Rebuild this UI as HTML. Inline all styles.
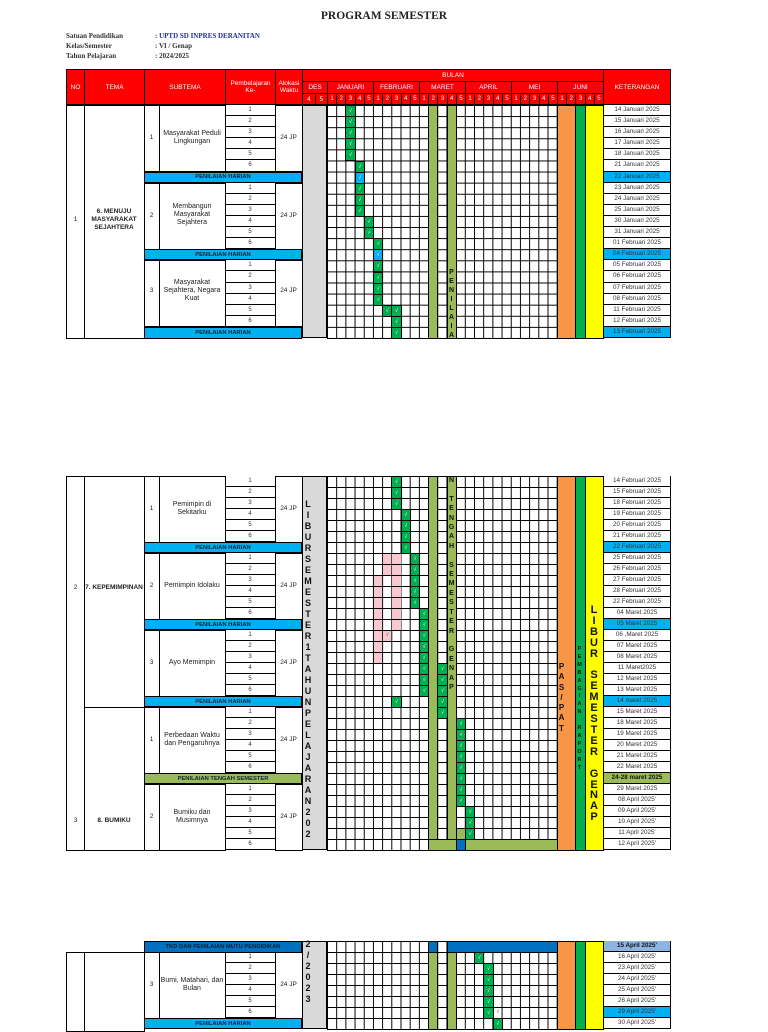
<!DOCTYPE html>
<html><head><meta charset="utf-8">
<style>
*{margin:0;padding:0;box-sizing:border-box}
body{width:768px;height:1024px;background:#fff;position:relative;overflow:hidden;font-family:"Liberation Sans",sans-serif;color:#222}
.a{position:absolute}
.b{position:absolute;border:1px solid #000}
.t{position:absolute;text-align:center;font-size:6.5px;line-height:8px;display:flex;align-items:center;justify-content:center}
.hd{position:absolute;background:#f00;border:1px solid #000;color:#fff;font-size:6.5px;display:flex;align-items:center;justify-content:center;text-align:center;line-height:7px}
.nums{position:absolute;left:225px;width:50px;font-size:6px;text-align:center;color:#333}
.nums div{border-bottom:1px solid #000;}
.ket{position:absolute;left:603px;width:68px;border-left:1px solid #000;border-right:1px solid #000;font-size:6.3px;text-align:center;color:#333}
.ket div{border-bottom:1px solid #000;overflow:hidden;white-space:nowrap}
.ph{position:absolute;left:144px;width:158px;background:#00b0f0;border:1px solid #000;font-size:5.8px;font-weight:bold;color:#123;display:flex;align-items:center;justify-content:center}
.vt{position:absolute;font-weight:bold;text-align:center;color:#111}
.ck{position:absolute;border:1px solid #000;font-size:5px;color:#fff;text-align:center}
.ck::after{content:"√"}
.info{position:absolute;font-family:"Liberation Serif",serif;font-weight:bold;font-size:7px}
</style></head><body>
<div class="a" style="left:0;top:10px;width:768px;text-align:center;font-family:'Liberation Serif',serif;font-weight:bold;font-size:11.5px">PROGRAM SEMESTER</div>
<div class="info" style="left:66px;top:31px;line-height:10px;color:#333">Satuan Pendidikan<br>Kelas/Semester<br>Tahun Pelajaran</div>
<div class="info" style="left:155px;top:31px;line-height:10px;color:#333"><span style="color:#1f2f8f">: UPTD SD INPRES DERANITAN</span><br>: VI / Genap<br>: 2024/2025</div>

<!-- header -->
<div class="hd" style="left:66px;top:69px;width:19px;height:36px">NO</div>
<div class="hd" style="left:84px;top:69px;width:61px;height:36px">TEMA</div>
<div class="hd" style="left:144px;top:69px;width:82px;height:36px">SUBTEMA</div>
<div class="hd" style="left:225px;top:69px;width:51px;height:36px">Pembelajaran<br>Ke-</div>
<div class="hd" style="left:275px;top:69px;width:28px;height:36px">Alokasi<br>Waktu</div>
<div class="hd" style="left:302px;top:69px;width:302px;height:13px">BULAN</div>
<div class="hd" style="left:302px;top:81px;width:26px;height:13px">DES</div>
<div class="hd" style="left:327px;top:81px;width:47px;height:13px">JANUARI</div>
<div class="hd" style="left:373px;top:81px;width:47px;height:13px">FEBRUARI</div>
<div class="hd" style="left:419px;top:81px;width:47px;height:13px">MARET</div>
<div class="hd" style="left:465px;top:81px;width:47px;height:13px">APRIL</div>
<div class="hd" style="left:511px;top:81px;width:47px;height:13px">MEI</div>
<div class="hd" style="left:557px;top:81px;width:47px;height:13px">JUNI</div>
<div class="hd" style="left:603px;top:69px;width:68px;height:36px">KETERANGAN</div>
<div id="wk"></div>

<!-- SECTION 1 -->
<div class="b" style="left:66px;top:105px;width:19px;height:234px"></div>
<div class="b" style="left:84px;top:105px;width:61px;height:234px"></div>
<div class="t" style="left:66px;top:215px;width:19px;height:10px">1</div>
<div class="t" style="left:84px;top:205px;width:60px;height:30px;font-weight:bold">6. MENUJU<br>MASYARAKAT<br>SEJAHTERA</div>

<div class="b" style="left:144px;top:105px;width:16px;height:67px"></div><div class="b" style="left:159px;top:105px;width:67px;height:67px"></div><div class="b" style="left:275px;top:105px;width:28px;height:67px"></div>
<div class="t" style="left:144px;top:133px;width:15px;height:10px">1</div>
<div class="t" style="left:159px;top:130px;width:66px;height:16px;font-size:7px">Masyarakat Peduli<br>Lingkungan</div>
<div class="t" style="left:275px;top:133px;width:27px;height:10px">24 JP</div>
<div class="nums" style="top:105px;line-height:10.1px"><div style="height:11.1px">1</div><div style="height:11.1px">2</div><div style="height:11.1px">3</div><div style="height:11.1px">4</div><div style="height:11.1px">5</div><div style="height:11.1px">6</div></div>
<div class="ph" style="top:171.6px;height:11.1px">PENILAIAN HARIAN</div>

<div class="b" style="left:144px;top:182.7px;width:16px;height:67px"></div><div class="b" style="left:159px;top:182.7px;width:67px;height:67px"></div><div class="b" style="left:275px;top:182.7px;width:28px;height:67px"></div>
<div class="t" style="left:144px;top:211px;width:15px;height:10px">2</div>
<div class="t" style="left:159px;top:203px;width:66px;height:24px;font-size:7px">Membangun<br>Masyarakat<br>Sejahtera</div>
<div class="t" style="left:275px;top:211px;width:27px;height:10px">24 JP</div>
<div class="nums" style="top:182.7px;line-height:10.1px"><div style="height:11.1px">1</div><div style="height:11.1px">2</div><div style="height:11.1px">3</div><div style="height:11.1px">4</div><div style="height:11.1px">5</div><div style="height:11.1px">6</div></div>
<div class="ph" style="top:249.3px;height:11.1px">PENILAIAN HARIAN</div>

<div class="b" style="left:144px;top:260.4px;width:16px;height:67px"></div><div class="b" style="left:159px;top:260.4px;width:67px;height:67px"></div><div class="b" style="left:275px;top:260.4px;width:28px;height:67px"></div>
<div class="t" style="left:144px;top:286px;width:15px;height:10px">3</div>
<div class="t" style="left:159px;top:279px;width:66px;height:24px;font-size:7px">Masyarakat<br>Sejahtera, Negara<br>Kuat</div>
<div class="t" style="left:275px;top:286px;width:27px;height:10px">24 JP</div>
<div class="nums" style="top:260.4px;line-height:10.1px"><div style="height:11.1px">1</div><div style="height:11.1px">2</div><div style="height:11.1px">3</div><div style="height:11.1px">4</div><div style="height:11.1px">5</div><div style="height:11.1px">6</div></div>
<div class="ph" style="top:327px;height:11.5px">PENILAIAN HARIAN</div>

<div class="ket" style="top:105px;line-height:10.1px">
<div style="height:11.1px">14 Januari 2025</div><div style="height:11.1px">15 Januari 2025</div><div style="height:11.1px">16 Januari 2025</div><div style="height:11.1px">17 Januari 2025</div><div style="height:11.1px">18  Januari 2025</div><div style="height:11.1px">21  Januari 2025</div><div style="height:11.1px;background:#00b0f0">22 Januari 2025</div><div style="height:11.1px">23 Januari 2025</div><div style="height:11.1px">24 Januari 2025</div><div style="height:11.1px">25  Januari 2025</div><div style="height:11.1px">30 Januari 2025</div><div style="height:11.1px">31  Januari 2025</div><div style="height:11.1px">01 Februari 2025</div><div style="height:11.1px;background:#00b0f0">04 Februari 2025</div><div style="height:11.1px">05 Februari 2025</div><div style="height:11.1px">06 Februari 2025</div><div style="height:11.1px">07 Februari 2025</div><div style="height:11.1px">08 Februari 2025</div><div style="height:11.1px">11 Februari 2025</div><div style="height:11.1px">12 Februari 2025</div><div style="height:11.1px;background:#00b0f0">13 Februari 2025</div>
</div>

<!-- SECTION 2 -->
<div class="b" style="left:66px;top:476px;width:19px;height:375px"></div>
<div class="b" style="left:84px;top:476px;width:61px;height:232px"></div>
<div class="b" style="left:84px;top:707px;width:61px;height:144px"></div>
<div class="t" style="left:66px;top:583px;width:19px;height:10px">2</div>
<div class="t" style="left:84px;top:583px;width:60px;height:10px;font-weight:bold">7. KEPEMIMPINAN</div>
<div class="t" style="left:66px;top:816px;width:19px;height:10px">3</div>
<div class="t" style="left:84px;top:816px;width:60px;height:10px;font-weight:bold">8. BUMIKU</div>

<div class="b" style="left:144px;top:476px;width:16px;height:67px"></div><div class="b" style="left:159px;top:476px;width:67px;height:67px"></div><div class="b" style="left:275px;top:476px;width:28px;height:67px"></div>
<div class="t" style="left:144px;top:504px;width:15px;height:10px">1</div>
<div class="t" style="left:159px;top:501px;width:66px;height:16px;font-size:7px">Pemimpin di<br>Sekitarku</div>
<div class="t" style="left:275px;top:504px;width:27px;height:10px">24 JP</div>
<div class="nums" style="top:476px;line-height:10px"><div style="height:11px">1</div><div style="height:11px">2</div><div style="height:11px">3</div><div style="height:11px">4</div><div style="height:11px">5</div><div style="height:11px">6</div></div>
<div class="ph" style="top:542px;height:11px">PENILAIAN HARIAN</div>

<div class="b" style="left:144px;top:553px;width:16px;height:67px"></div><div class="b" style="left:159px;top:553px;width:67px;height:67px"></div><div class="b" style="left:275px;top:553px;width:28px;height:67px"></div>
<div class="t" style="left:144px;top:581px;width:15px;height:10px">2</div>
<div class="t" style="left:159px;top:581px;width:66px;height:10px;font-size:7px">Pemimpin Idolaku</div>
<div class="t" style="left:275px;top:581px;width:27px;height:10px">24 JP</div>
<div class="nums" style="top:553px;line-height:10px"><div style="height:11px">1</div><div style="height:11px">2</div><div style="height:11px">3</div><div style="height:11px">4</div><div style="height:11px">5</div><div style="height:11px">6</div></div>
<div class="ph" style="top:619px;height:11px">PENILAIAN HARIAN</div>

<div class="b" style="left:144px;top:630px;width:16px;height:67px"></div><div class="b" style="left:159px;top:630px;width:67px;height:67px"></div><div class="b" style="left:275px;top:630px;width:28px;height:67px"></div>
<div class="t" style="left:144px;top:658px;width:15px;height:10px">3</div>
<div class="t" style="left:159px;top:658px;width:66px;height:10px;font-size:7px">Ayo Memimpin</div>
<div class="t" style="left:275px;top:658px;width:27px;height:10px">24 JP</div>
<div class="nums" style="top:630px;line-height:10px"><div style="height:11px">1</div><div style="height:11px">2</div><div style="height:11px">3</div><div style="height:11px">4</div><div style="height:11px">5</div><div style="height:11px">6</div></div>
<div class="ph" style="top:696px;height:11px">PENILAIAN HARIAN</div>

<div class="b" style="left:144px;top:707px;width:16px;height:67px"></div><div class="b" style="left:159px;top:707px;width:67px;height:67px"></div><div class="b" style="left:275px;top:707px;width:28px;height:67px"></div>
<div class="t" style="left:144px;top:735px;width:15px;height:10px">1</div>
<div class="t" style="left:159px;top:732px;width:66px;height:16px;font-size:7px">Perbedaan Waktu<br>dan Pengaruhnya</div>
<div class="t" style="left:275px;top:735px;width:27px;height:10px">24 JP</div>
<div class="nums" style="top:707px;line-height:10px"><div style="height:11px">1</div><div style="height:11px">2</div><div style="height:11px">3</div><div style="height:11px">4</div><div style="height:11px">5</div><div style="height:11px">6</div></div>
<div class="ph" style="top:773px;height:11px;background:#9bbb59">PENILAIAN TENGAH SEMESTER</div>

<div class="b" style="left:144px;top:784px;width:16px;height:67px"></div><div class="b" style="left:159px;top:784px;width:67px;height:67px"></div><div class="b" style="left:275px;top:784px;width:28px;height:67px"></div>
<div class="t" style="left:144px;top:812px;width:15px;height:10px">2</div>
<div class="t" style="left:159px;top:809px;width:66px;height:16px;font-size:7px">Bumiku dan<br>Musimnya</div>
<div class="t" style="left:275px;top:812px;width:27px;height:10px">24 JP</div>
<div class="nums" style="top:784px;line-height:10px"><div style="height:11px">1</div><div style="height:11px">2</div><div style="height:11px">3</div><div style="height:11px">4</div><div style="height:11px">5</div><div style="height:11px">6</div></div>

<div class="ket" style="top:476px;line-height:10px">
<div style="height:11px">14 Februari 2025</div><div style="height:11px">15 Februari 2025</div><div style="height:11px">18 Februari 2025</div><div style="height:11px">19 Februari 2025</div><div style="height:11px">20 Februari 2025</div><div style="height:11px">21 Februari 2025</div><div style="height:11px;background:#00b0f0">22 Februari 2025</div><div style="height:11px">25 Februari 2025</div><div style="height:11px">26 Februari 2025</div><div style="height:11px">27 Februari 2025</div><div style="height:11px">28 Februari 2025</div><div style="height:11px">22 Februari 2025</div><div style="height:11px">04 Maret 2025</div><div style="height:11px;background:#00b0f0">05 Maret 2025</div><div style="height:11px">06 ,Maret  2025</div><div style="height:11px">07 Maret 2025</div><div style="height:11px">08 Maret 2025</div><div style="height:11px">11 Maret2025</div><div style="height:11px">12 Maret 2025</div><div style="height:11px">13 Maret 2025</div><div style="height:11px;background:#00b0f0">14 maret 2025</div><div style="height:11px">15 Maret 2025</div><div style="height:11px">18 Maret 2025</div><div style="height:11px">19 Maret 2025</div><div style="height:11px">20 Maret 2025</div><div style="height:11px">21 Maret 2025</div><div style="height:11px">22 Maret 2025</div><div style="height:11px;background:#9bbb59;font-weight:bold;color:#111">24-28 maret 2025</div><div style="height:11px">29 Maret 2025</div><div style="height:11px">08 April 2025'</div><div style="height:11px">09 April 2025'</div><div style="height:11px">10 April 2025'</div><div style="height:11px">11 April 2025'</div><div style="height:11px">12 April 2025'</div>
</div>

<!-- SECTION 3 -->
<div class="b" style="left:66px;top:952px;width:19px;height:80px"></div>
<div class="b" style="left:84px;top:952px;width:61px;height:80px"></div>
<div class="ph" style="top:941px;height:12px;background:#0070c0">TKD DAN PENILAIAN MUTU PENDIDIKAN</div>
<div class="b" style="left:144px;top:952px;width:16px;height:67px"></div><div class="b" style="left:159px;top:952px;width:67px;height:67px"></div><div class="b" style="left:275px;top:952px;width:28px;height:67px"></div>
<div class="t" style="left:144px;top:980px;width:15px;height:10px">3</div>
<div class="t" style="left:159px;top:977px;width:66px;height:16px;font-size:7px">Bumi, Matahari, dan<br>Bulan</div>
<div class="t" style="left:275px;top:980px;width:27px;height:10px">24 JP</div>
<div class="nums" style="top:952px;line-height:10px"><div style="height:11px">1</div><div style="height:11px">2</div><div style="height:11px">3</div><div style="height:11px">4</div><div style="height:11px">5</div><div style="height:11px">6</div></div>
<div class="ph" style="top:1018px;height:11px">PENILAIAN HARIAN</div>
<div class="ket" style="top:941px;line-height:10px">
<div style="height:11px;background:#8db4e2;font-weight:bold;color:#111">15 April 2025'</div><div style="height:11px">16 April 2025'</div><div style="height:11px">23 April 2025'</div><div style="height:11px">24 April 2025'</div><div style="height:11px">25 April 2025'</div><div style="height:11px">26 April 2025'</div><div style="height:11px;background:#00b0f0">29 April 2025'</div><div style="height:11px">30 April 2025'</div>
</div>

<div id="g"></div>

<!-- vertical texts -->
<div class="vt" style="left:447px;top:268px;width:9px;font-size:7px;line-height:9px;z-index:5">P<br>E<br>N<br>I<br>L<br>A<br>I<br>A</div>
<div class="vt" style="left:447px;top:476px;width:9px;font-size:7px;line-height:9.4px;z-index:5">N<br>&nbsp;<br>T<br>E<br>N<br>G<br>A<br>H<br>&nbsp;<br>S<br>E<br>M<br>E<br>S<br>T<br>E<br>R<br>&nbsp;<br>G<br>E<br>N<br>A<br>P</div>
<div class="vt" style="left:302px;top:499px;width:12px;font-size:9px;line-height:11px;z-index:5">L<br>I<br>B<br>U<br>R<br>S<br>E<br>M<br>E<br>S<br>T<br>E<br>R<br>1<br>T<br>A<br>H<br>U<br>N<br>P<br>E<br>L<br>A<br>J<br>A<br>R<br>A<br>N<br>2<br>0<br>2</div>
<div class="vt" style="left:302px;top:939px;width:12px;font-size:9px;line-height:11px;z-index:5">2<br>/<br>2<br>0<br>2<br>3</div>
<div class="vt" style="left:557px;top:662px;width:9px;font-size:8px;line-height:10.3px;z-index:5">P<br>A<br>S<br>/<br>P<br>A<br>T</div>
<div class="vt" style="left:575px;top:646px;width:9px;font-size:5.5px;line-height:7.9px;z-index:5">P<br>E<br>M<br>B<br>A<br>G<br>I<br>A<br>N<br>&nbsp;<br>R<br>A<br>P<br>O<br>R<br>T</div>
<div class="vt" style="left:585px;top:605px;width:18px;font-size:11px;line-height:10.9px;z-index:5">L<br>I<br>B<br>U<br>R<br>&nbsp;<br>S<br>E<br>M<br>E<br>S<br>T<br>E<br>R<br>&nbsp;<br>G<br>E<br>N<br>A<br>P</div>

<script>
(function(){
var g=document.getElementById('g'),W=9.2,X=327;
function box(x,y,w,h,s){var d=document.createElement('div');d.style.cssText='position:absolute;left:'+x+'px;top:'+y+'px;width:'+w+'px;height:'+h+'px;'+(s||'');g.appendChild(d);return d;}
function ck(top,h,r,j,c,nf){var d=document.createElement('div');d.className='ck';d.style.cssText='left:'+(X+W*j)+'px;top:'+(top+r*h)+'px;width:'+(W+1)+'px;height:'+(h+1)+'px;line-height:'+h+'px;background:'+(nf?'transparent':c||'#00b050')+';'+(nf?'border:none;color:#063':'');g.appendChild(d);}
// week header numbers
var wk=document.getElementById('wk');
var hx='';
hx+='<div class="hd" style="left:302px;top:93px;width:13.5px;height:12px">4</div><div class="hd" style="left:314.5px;top:93px;width:13.5px;height:12px">5</div>';
for(var j=0;j<30;j++){hx+='<div class="hd" style="left:'+(X+W*j)+'px;top:93px;width:'+(W+1)+'px;height:12px;font-size:6px">'+(j%5+1)+'</div>';}
wk.innerHTML=hx;
function sec(top,h,n){
 var H=n*h;
 box(302,top,25,H,'background:#d9d9d9;border:1px solid #000;');
 box(X,top,25*W+1,H+1,'background-color:#fff;background-image:linear-gradient(to right,#000 1px,transparent 1px),linear-gradient(to bottom,#000 1px,transparent 1px);background-size:'+W+'px 100%,100% '+h+'px;border-right:1px solid #000;border-bottom:1px solid #000;');
 box(X+11*W,top,W+1,H+1,'background:#9bbb59;border:1px solid #000;');
 box(X+13*W,top,W+1,H+1,'background:#9bbb59;border:1px solid #000;');
 box(X+25*W,top,2*W+1,H+1,'background:#f79646;border:1px solid #000;');
 box(X+27*W,top,W+1,H+1,'background:#00b050;border:1px solid #000;');
 box(X+28*W,top,2*W+1,H+1,'background:#ffff00;border:1px solid #000;');
}
// section1
var t=105,h=11.1;sec(t,h,21);
[0,1,2,3,4].forEach(function(r){ck(t,h,r,2)});
ck(t,h,5,3);ck(t,h,6,3,'#00b0f0');[7,8,9].forEach(function(r){ck(t,h,r,3)});
ck(t,h,10,4);ck(t,h,11,4);ck(t,h,12,5);ck(t,h,13,5,'#00b0f0');
[14,15,16,17].forEach(function(r){ck(t,h,r,5)});ck(t,h,18,6);ck(t,h,18,7);ck(t,h,19,7);ck(t,h,20,7);
// section2
t=476;h=11;sec(t,h,34);
function pink(r,j){box(X+W*j+1,t+r*h+1,W-1,h-1,'background:#f8c8d0;');}
[7,8].forEach(function(r){pink(r,6)});for(var r=7;r<=13;r++)pink(r,7);for(r=9;r<=16;r++)pink(r,5);pink(14,6);
ck(t,h,14,6,'#f8c8d0',true);
[0,1,2].forEach(function(r){ck(t,h,r,7)});[3,4,5,6].forEach(function(r){ck(t,h,r,8)});
for(r=7;r<=11;r++)ck(t,h,r,9);for(r=12;r<=19;r++)ck(t,h,r,10);for(r=17;r<=21;r++)ck(t,h,r,12);
ck(t,h,20,7);for(r=22;r<=29;r++)ck(t,h,r,14);for(r=30;r<=32;r++)ck(t,h,r,15);
box(X+14*W,t+32*h,W+1,h+1,'background:#9bbb59;border:1px solid #000;');
box(X+11*W,t+33*h,14*W+1,h+1,'background:#9bbb59;border:1px solid #000;');
box(X+14*W,t+33*h,W+1,h+1,'background:#0070c0;border:1px solid #000;');
// section3
t=941;h=11;sec(t,h,8);
box(X+11*W,t,W+1,h+1,'background:#0070c0;border:1px solid #000;');
box(X+13*W,t,12*W+1,h+1,'background:#0070c0;border:1px solid #000;');
ck(t,h,1,16);for(r=2;r<=6;r++)ck(t,h,r,17);ck(t,h,6,18,'',true);ck(t,h,7,18);
})();
</script>
</body></html>
